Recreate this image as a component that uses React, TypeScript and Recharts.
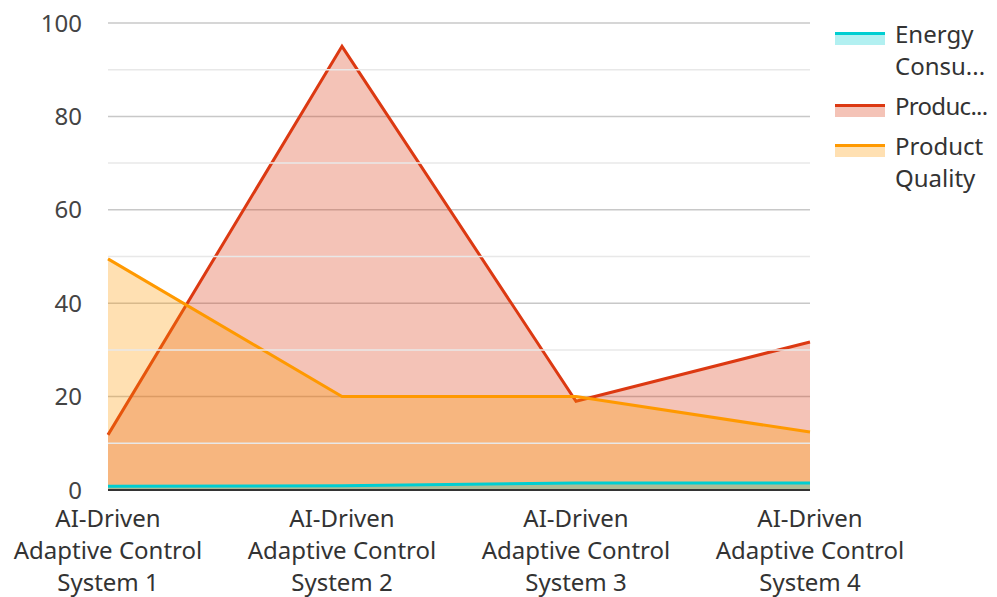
import React from "react";
import {
  AreaChart,
  Area,
  XAxis,
  YAxis,
  CartesianGrid,
  ReferenceLine,
} from "recharts";

const categories = [
  "AI-Driven Adaptive Control System 1",
  "AI-Driven Adaptive Control System 2",
  "AI-Driven Adaptive Control System 3",
  "AI-Driven Adaptive Control System 4",
];
const energy = [0.8, 0.9, 1.5, 1.5];
const production = [11.8, 95, 19, 31.7];
const quality = [49.5, 20, 20, 12.4];
const yTicks = [0, 20, 40, 60, 80, 100];
const minorLines = [10, 30, 50, 70, 90];

const series = [
  { key: "energy", name: "Energy Consumption", color: "#00CED1", label: ["Energy", "Consu..."] },
  { key: "production", name: "Production Output", color: "#DC3912", label: ["Produc..."] },
  { key: "quality", name: "Product Quality", color: "#FF9900", label: ["Product", "Quality"] },
];
// drawing order: energy ends up on top
const drawOrder = ["production", "quality", "energy"];

const data = categories.map((name, i) => ({
  name,
  energy: energy[i],
  production: production[i],
  quality: quality[i],
}));

const font = "'Noto Sans', sans-serif";

function wrap(text: string, max: number) {
  const lines: string[] = [];
  let cur = "";
  for (const w of text.split(" ")) {
    if (cur && (cur + " " + w).length > max) {
      lines.push(cur);
      cur = w;
    } else {
      cur = cur ? cur + " " + w : w;
    }
  }
  if (cur) lines.push(cur);
  return lines;
}

function XTick(props: any) {
  const { x, y, payload } = props;
  const lines = wrap(payload.value, 16);
  return (
    <text x={x} y={y} textAnchor="middle" fill="#333" fontSize={24} fontFamily={font}>
      {lines.map((l, i) => (
        <tspan key={i} x={x} dy={i === 0 ? 29 : 32}>
          {l}
        </tspan>
      ))}
    </text>
  );
}

function LegendBox() {
  return (
    <div
      style={{
        position: "absolute",
        left: 827,
        top: 10,
        fontFamily: font,
        fontSize: 24,
        color: "#333",
        lineHeight: "32px",
      }}
    >
      {series.map((s) => (
        <div key={s.key} style={{ display: "flex", marginBottom: 8 }}>
          <div style={{ width: 50, marginRight: 10, paddingTop: 14 }}>
            <div style={{ height: 3, background: s.color }} />
            <div style={{ height: 10, background: s.color, opacity: 0.3 }} />
          </div>
          <div style={{ whiteSpace: "nowrap" }}>
            {s.label.map((l, i) => (
              <div key={i} style={{ letterSpacing: l.length > 8 ? -0.7 : 0 }}>
                {l}
              </div>
            ))}
          </div>
        </div>
      ))}
    </div>
  );
}

export default function App() {
  return (
    <div style={{ position: "relative", width: 989, height: 589 }}>
      <AreaChart
        width={989}
        height={589}
        data={data}
        margin={{ top: 15, right: 187, bottom: 0, left: 0 }}
      >
        <CartesianGrid vertical={false} stroke="#c8c8c8" strokeWidth={1.5} />
        {minorLines.map((v) => (
          <ReferenceLine key={v} y={v} stroke="#e8e8e8" strokeWidth={1.5} />
        ))}
        <XAxis
          dataKey="name"
          height={107}
          interval={0}
          tick={<XTick />}
          tickLine={false}
          axisLine={{ stroke: "#333", strokeWidth: 2 }}
        />
        <YAxis
          domain={[0, 100]}
          ticks={yTicks}
          width={100}
          tickLine={false}
          axisLine={false}
          tickMargin={20}
          tick={{ fill: "#444", fontSize: 24, fontFamily: font }}
        />
        {drawOrder.map((k) => {
          const s = series.find((x) => x.key === k)!;
          return (
            <Area
              key={s.key}
              type="linear"
              dataKey={s.key}
              name={s.name}
              stroke={s.color}
              strokeWidth={3}
              fill={s.color}
              fillOpacity={0.3}
              isAnimationActive={false}
            />
          );
        })}
      </AreaChart>
      <LegendBox />
    </div>
  );
}
